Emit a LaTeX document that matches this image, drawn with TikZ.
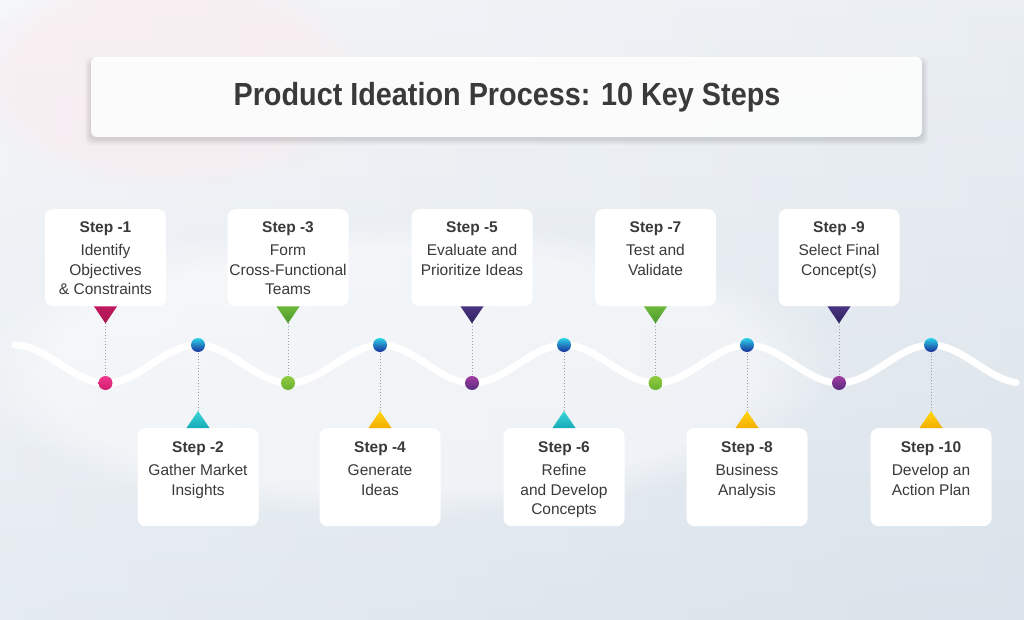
\documentclass[tikz,border=0pt]{standalone}
\usepackage{fontspec}
\setmainfont{Liberation Sans}
\newfontfamily\titlefont[FakeStretch=0.9]{Liberation Sans}
\usetikzlibrary{fadings}
\definecolor{txt}{HTML}{3A3A3A}
\definecolor{bgtop}{HTML}{F1F3F6}
\definecolor{bgbot}{HTML}{DAE3EB}
\definecolor{dotc}{HTML}{9CA3AC}
\definecolor{pinkglow}{HTML}{FBEBEE}
\definecolor{magA}{HTML}{F0388E}\definecolor{magB}{HTML}{D01C6E}
\definecolor{magT}{HTML}{C2185F}\definecolor{magTb}{HTML}{A8164F}
\definecolor{grnA}{HTML}{92CB40}\definecolor{grnB}{HTML}{68B22F}
\definecolor{grnT}{HTML}{6CB83A}\definecolor{grnTb}{HTML}{4E9A2E}
\definecolor{purA}{HTML}{A03CA0}\definecolor{purB}{HTML}{5A2C80}
\definecolor{purT}{HTML}{4A3580}\definecolor{purTb}{HTML}{2F2460}
\definecolor{bluA}{HTML}{2CD2E8}\definecolor{bluB}{HTML}{182E9A}
\definecolor{tealA}{HTML}{3AD6D8}\definecolor{tealB}{HTML}{17AAB8}
\definecolor{yelA}{HTML}{FFD614}\definecolor{yelB}{HTML}{F4AE00}
\begin{document}
\begin{tikzpicture}[x=1pt,y=-1pt,
  card/.style={fill=white, rounded corners=8pt, minimum width=121pt, minimum height=97pt, inner sep=0pt, anchor=north},
  lbl/.style={align=center, inner sep=0pt, anchor=north, text=txt, font=\fontsize{15.5}{19.3}\selectfont},
  conn/.style={draw=dotc, line width=1pt, dash pattern=on 1pt off 2pt},
  dotnode/.style={circle, minimum size=14pt, inner sep=0pt},
  dmag/.style={dotnode, top color=magA, bottom color=magB},
  dgrn/.style={dotnode, top color=grnA, bottom color=grnB},
  dpur/.style={dotnode, top color=purA, bottom color=purB},
  dblu/.style={dotnode, top color=bluA, bottom color=bluB},
  tmag/.style={top color=magT, bottom color=magTb},
  tgrn/.style={top color=grnT, bottom color=grnTb},
  tpur/.style={top color=purT, bottom color=purTb},
  tteal/.style={top color=tealA, bottom color=tealB},
  tyel/.style={top color=yelA, bottom color=yelB},
  wave/.style={draw=white, line width=7pt, line cap=round},
  glow/.style={path fading=circle with fuzzy edge 20 percent}
]
\useasboundingbox (0,0) rectangle (1024,620);
% background
\begin{scope}
\clip (0,0) rectangle (1024,620);
\shade[top color=bgtop, bottom color=bgbot] (0,0) rectangle (1024,620);
\shade[left color=white, right color=bgbot, opacity=0.3] (0,0) rectangle (1024,620);
\fill[pinkglow, opacity=0.5, glow] (170,80) ellipse (200 and 110);
\fill[white, opacity=0.45, glow] (400,370) ellipse (440 and 150);
\end{scope}

% title box with soft shadow
\foreach \k in {1,...,6}
  \fill[black, opacity=0.018, rounded corners=6pt] (91-\k,61-\k+2) rectangle (922+\k,137+\k+2);
\node[fill=white, fill opacity=0.92, rounded corners=6pt, minimum width=831pt, minimum height=80pt, inner sep=0pt] (tbox) at (506.5,97) {};
\node[anchor=base, text=txt, font=\titlefont\bfseries\fontsize{32}{36}\selectfont] (title) at (507,105.5) {Product Ideation Process: 10 Key Steps};

% wave
\draw[wave] plot[domain=15:1016, samples=240, smooth] (\x, {364 - 19*cos((\x-14)*1.96292)});

% cards
\node[card] (c1) at (105.5,209) {};
\node[card] (c3) at (288,209) {};
\node[card] (c5) at (472,209) {};
\node[card] (c7) at (655.5,209) {};
\node[card] (c9) at (839,209) {};
\node[card, minimum height=98pt] (c2) at (198,428) {};
\node[card, minimum height=98pt] (c4) at (380,428) {};
\node[card, minimum height=98pt] (c6) at (564,428) {};
\node[card, minimum height=98pt] (c8) at (747,428) {};
\node[card, minimum height=98pt] (c10) at (931,428) {};

% card texts
\node[lbl] (t1) at ([yshift=-12pt]c1.north) {\textbf{Step -1}\\[4.5pt]Identify\\Objectives\\\& Constraints};
\node[lbl] (t3) at ([yshift=-12pt]c3.north) {\textbf{Step -3}\\[4.5pt]Form\\Cross-Functional\\Teams};
\node[lbl] (t5) at ([yshift=-12pt]c5.north) {\textbf{Step -5}\\[4.5pt]Evaluate and\\Prioritize Ideas};
\node[lbl] (t7) at ([yshift=-12pt]c7.north) {\textbf{Step -7}\\[4.5pt]Test and\\Validate};
\node[lbl] (t9) at ([yshift=-12pt]c9.north) {\textbf{Step -9}\\[4.5pt]Select Final\\Concept(s)};
\node[lbl] (t2) at ([yshift=-13.5pt]c2.north) {\textbf{Step -2}\\[4pt]Gather Market\\Insights};
\node[lbl] (t4) at ([yshift=-13.5pt]c4.north) {\textbf{Step -4}\\[4pt]Generate\\Ideas};
\node[lbl] (t6) at ([yshift=-13.5pt]c6.north) {\textbf{Step -6}\\[4pt]Refine\\and Develop\\Concepts};
\node[lbl] (t8) at ([yshift=-13.5pt]c8.north) {\textbf{Step -8}\\[4pt]Business\\Analysis};
\node[lbl] (t10) at ([yshift=-13.5pt]c10.north) {\textbf{Step -10}\\[4pt]Develop an\\Action Plan};

% triangle tips
\foreach \c in {1,3,5,7,9}
  \coordinate (p\c) at ([yshift=-17pt]c\c.south);
\foreach \c in {2,4,6,8,10}
  \coordinate (p\c) at ([yshift=17pt]c\c.north);

% dot positions
\coordinate (d1) at (105.5,383);
\coordinate (d3) at (288,383);
\coordinate (d5) at (472,383);
\coordinate (d7) at (655.5,383);
\coordinate (d9) at (839,383);
\coordinate (d2) at (198,345);
\coordinate (d4) at (380,345);
\coordinate (d6) at (564,345);
\coordinate (d8) at (747,345);
\coordinate (d10) at (931,345);

% connectors
\foreach \c in {1,...,10}
  \draw[conn] (p\c) -- (d\c);

% dots
\node[dmag] (n1) at (d1) {};
\node[dgrn] (n3) at (d3) {};
\node[dpur] (n5) at (d5) {};
\node[dgrn] (n7) at (d7) {};
\node[dpur] (n9) at (d9) {};
\foreach \c in {2,4,6,8,10}
  \node[dblu] (n\c) at (d\c) {};

% triangles below top cards
\path[tmag] ([xshift=-11.5pt]c1.south) -- ([xshift=11.5pt]c1.south) -- (p1) -- cycle;
\path[tgrn] ([xshift=-11.5pt]c3.south) -- ([xshift=11.5pt]c3.south) -- (p3) -- cycle;
\path[tpur] ([xshift=-11.5pt]c5.south) -- ([xshift=11.5pt]c5.south) -- (p5) -- cycle;
\path[tgrn] ([xshift=-11.5pt]c7.south) -- ([xshift=11.5pt]c7.south) -- (p7) -- cycle;
\path[tpur] ([xshift=-11.5pt]c9.south) -- ([xshift=11.5pt]c9.south) -- (p9) -- cycle;
% triangles above bottom cards
\path[tteal] ([xshift=-11.5pt]c2.north) -- ([xshift=11.5pt]c2.north) -- (p2) -- cycle;
\path[tyel] ([xshift=-11.5pt]c4.north) -- ([xshift=11.5pt]c4.north) -- (p4) -- cycle;
\path[tteal] ([xshift=-11.5pt]c6.north) -- ([xshift=11.5pt]c6.north) -- (p6) -- cycle;
\path[tyel] ([xshift=-11.5pt]c8.north) -- ([xshift=11.5pt]c8.north) -- (p8) -- cycle;
\path[tyel] ([xshift=-11.5pt]c10.north) -- ([xshift=11.5pt]c10.north) -- (p10) -- cycle;
\end{tikzpicture}
\end{document}
